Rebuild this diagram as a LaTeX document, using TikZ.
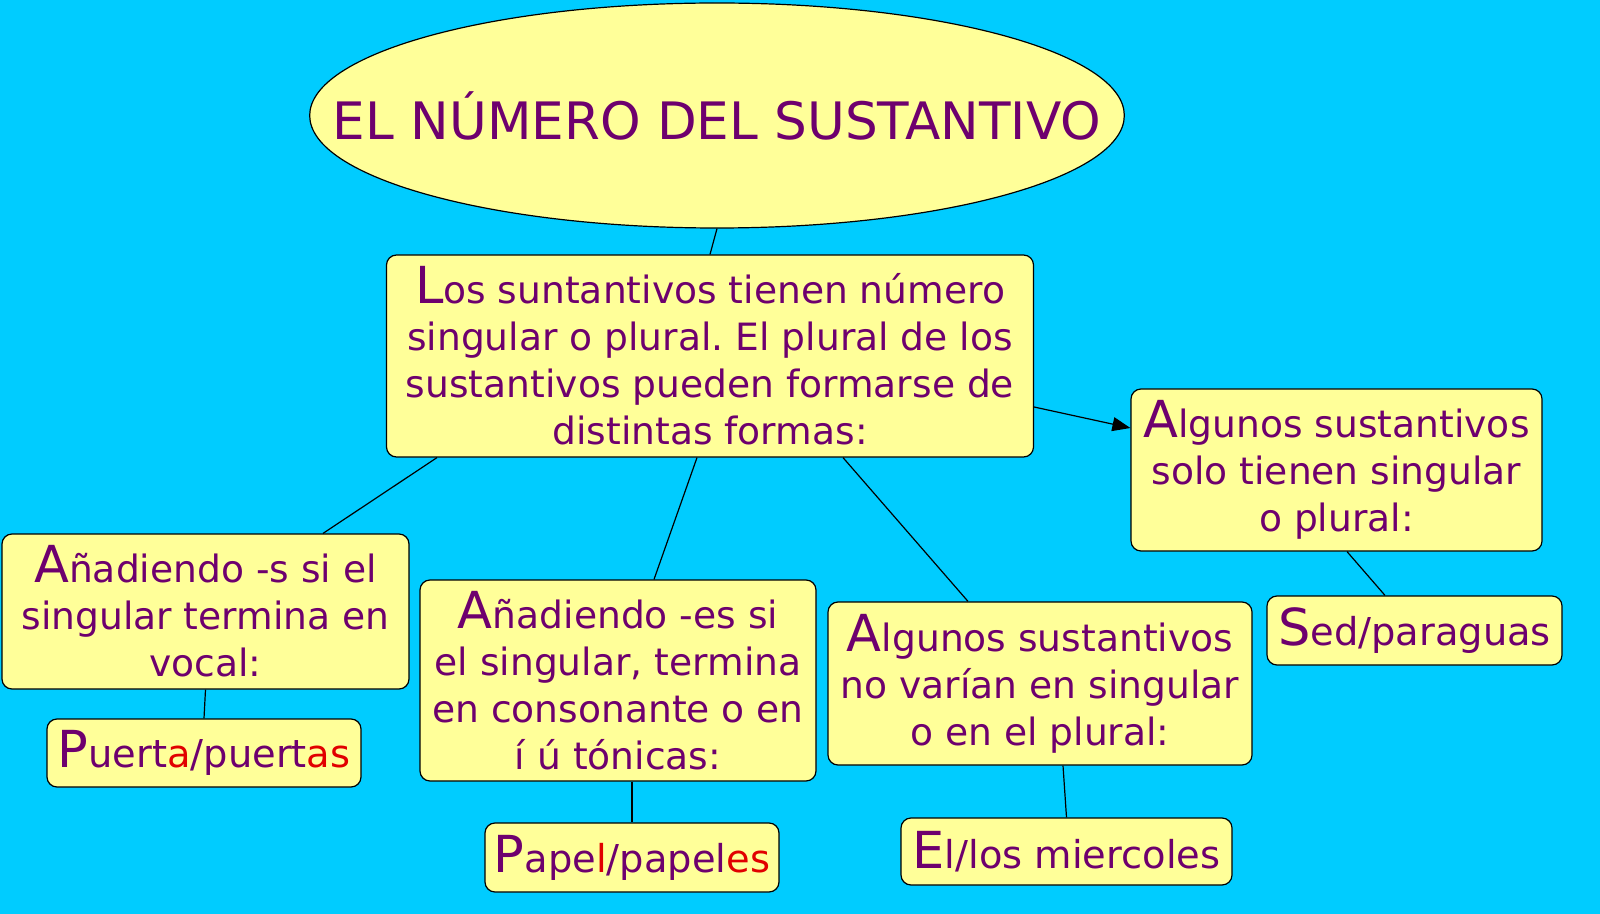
\documentclass[tikz,border=0pt]{standalone}
\usepackage{fontspec}
\setmainfont{DejaVu Sans}
\usetikzlibrary{shapes.geometric,arrows.meta}

\definecolor{fondo}{RGB}{0,204,255}
\definecolor{amarillo}{RGB}{255,255,153}
\definecolor{morado}{RGB}{110,0,110}
\definecolor{rojo}{RGB}{225,0,0}

\frenchspacing
\newcommand\inicial[1]{{\fontsize{25.5}{23.5}\selectfont #1}}
\newcommand\rojo[1]{\textcolor{rojo}{#1}}

\tikzset{
  caja/.style={draw=black,fill=amarillo,rounded corners=5pt,line width=0.6pt,
    text=morado,align=center,inner sep=0pt,
    font=\fontsize{18.8}{23.5}\selectfont},
  ejemplo/.style={caja,font=\fontsize{19.2}{23.5}\selectfont},
  linea/.style={draw=black,line width=0.6pt}
}

\begin{document}
\begin{tikzpicture}[x=0.5pt,y=-0.5pt]
  \fill[fondo] (0,0) rectangle (1600,914);
  \useasboundingbox (0,0) rectangle (1600,914);

  % Titulo
  \node[ellipse,draw=black,fill=amarillo,line width=0.6pt,text=morado,
    minimum height=112.5pt,inner ysep=0pt,inner xsep=-48pt,
    font=\fontsize{25.8}{30}\selectfont] (Titulo) at (717,115.5) {EL NÚMERO DEL SUSTANTIVO};

  % Principal
  \node[caja,minimum width=323.5pt,minimum height=101pt] (Principal) at (710,356)
    {\inicial{L}os suntantivos tienen número\\singular o plural. El plural de los\\sustantivos pueden formarse de\\distintas formas:};
  \node[caja,minimum width=205.5pt,minimum height=81pt] (Solo) at (1336.5,470)
    {\inicial{A}lgunos sustantivos\\solo tienen singular\\o plural:};
  \node[ejemplo,minimum width=147.5pt,minimum height=34.5pt] (Sed) at (1414.5,630.5)
    {\inicial{S}ed/paraguas};

  % Ramas
  \node[caja,minimum width=203.5pt,minimum height=77.5pt] (Vocal) at (205.5,611.5)
    {\inicial{A}ñadiendo -s si el\\singular termina en\\vocal:};
  \node[ejemplo,minimum width=157pt,minimum height=34pt] (Puerta) at (204,753)
    {\inicial{P}uert\rojo{a}/puert\rojo{as}};
  \node[caja,minimum width=198pt,minimum height=100.5pt] (Consonante) at (618,680.5)
    {\inicial{A}ñadiendo -es si\\el singular, termina\\en consonante o en\\í ú tónicas:};
  \node[ejemplo,minimum width=147pt,minimum height=34.5pt] (Papel) at (632,857.5)
    {\inicial{P}ape\rojo{l}/papel\rojo{es}};
  \node[caja,minimum width=212pt,minimum height=81.5pt] (NoVarian) at (1040,683.5)
    {\inicial{A}lgunos sustantivos\\no varían en singular\\o en el plural:};
  \node[ejemplo,minimum width=165.5pt,minimum height=33.5pt] (Miercoles) at (1066.5,851.5)
    {\inicial{E}l/los miercoles};

  % Conectores
  \draw[linea] (Titulo.south) -- (Principal.north);
  \draw[linea,-{Triangle[length=9pt,width=7pt]}] ([yshift=-25.5pt]Principal.east) -- ([yshift=21pt]Solo.west);
  \draw[linea] ([xshift=5.25pt]Solo.south) -- ([xshift=-14.75pt]Sed.north);
  \draw[linea] ([xshift=-136.5pt]Principal.south) -- ([xshift=58.75pt]Vocal.north);
  \draw[linea] ([xshift=-6.5pt]Principal.south) -- ([xshift=18pt]Consonante.north);
  \draw[linea] ([xshift=66.5pt]Principal.south) -- ([xshift=-36pt]NoVarian.north);
  \draw[linea] (Vocal.south) -- (Puerta.north);
  \draw[linea] ([xshift=7pt]Consonante.south) -- (Papel.north);
  \draw[linea] ([xshift=11.5pt]NoVarian.south) -- (Miercoles.north);
\end{tikzpicture}
\end{document}
